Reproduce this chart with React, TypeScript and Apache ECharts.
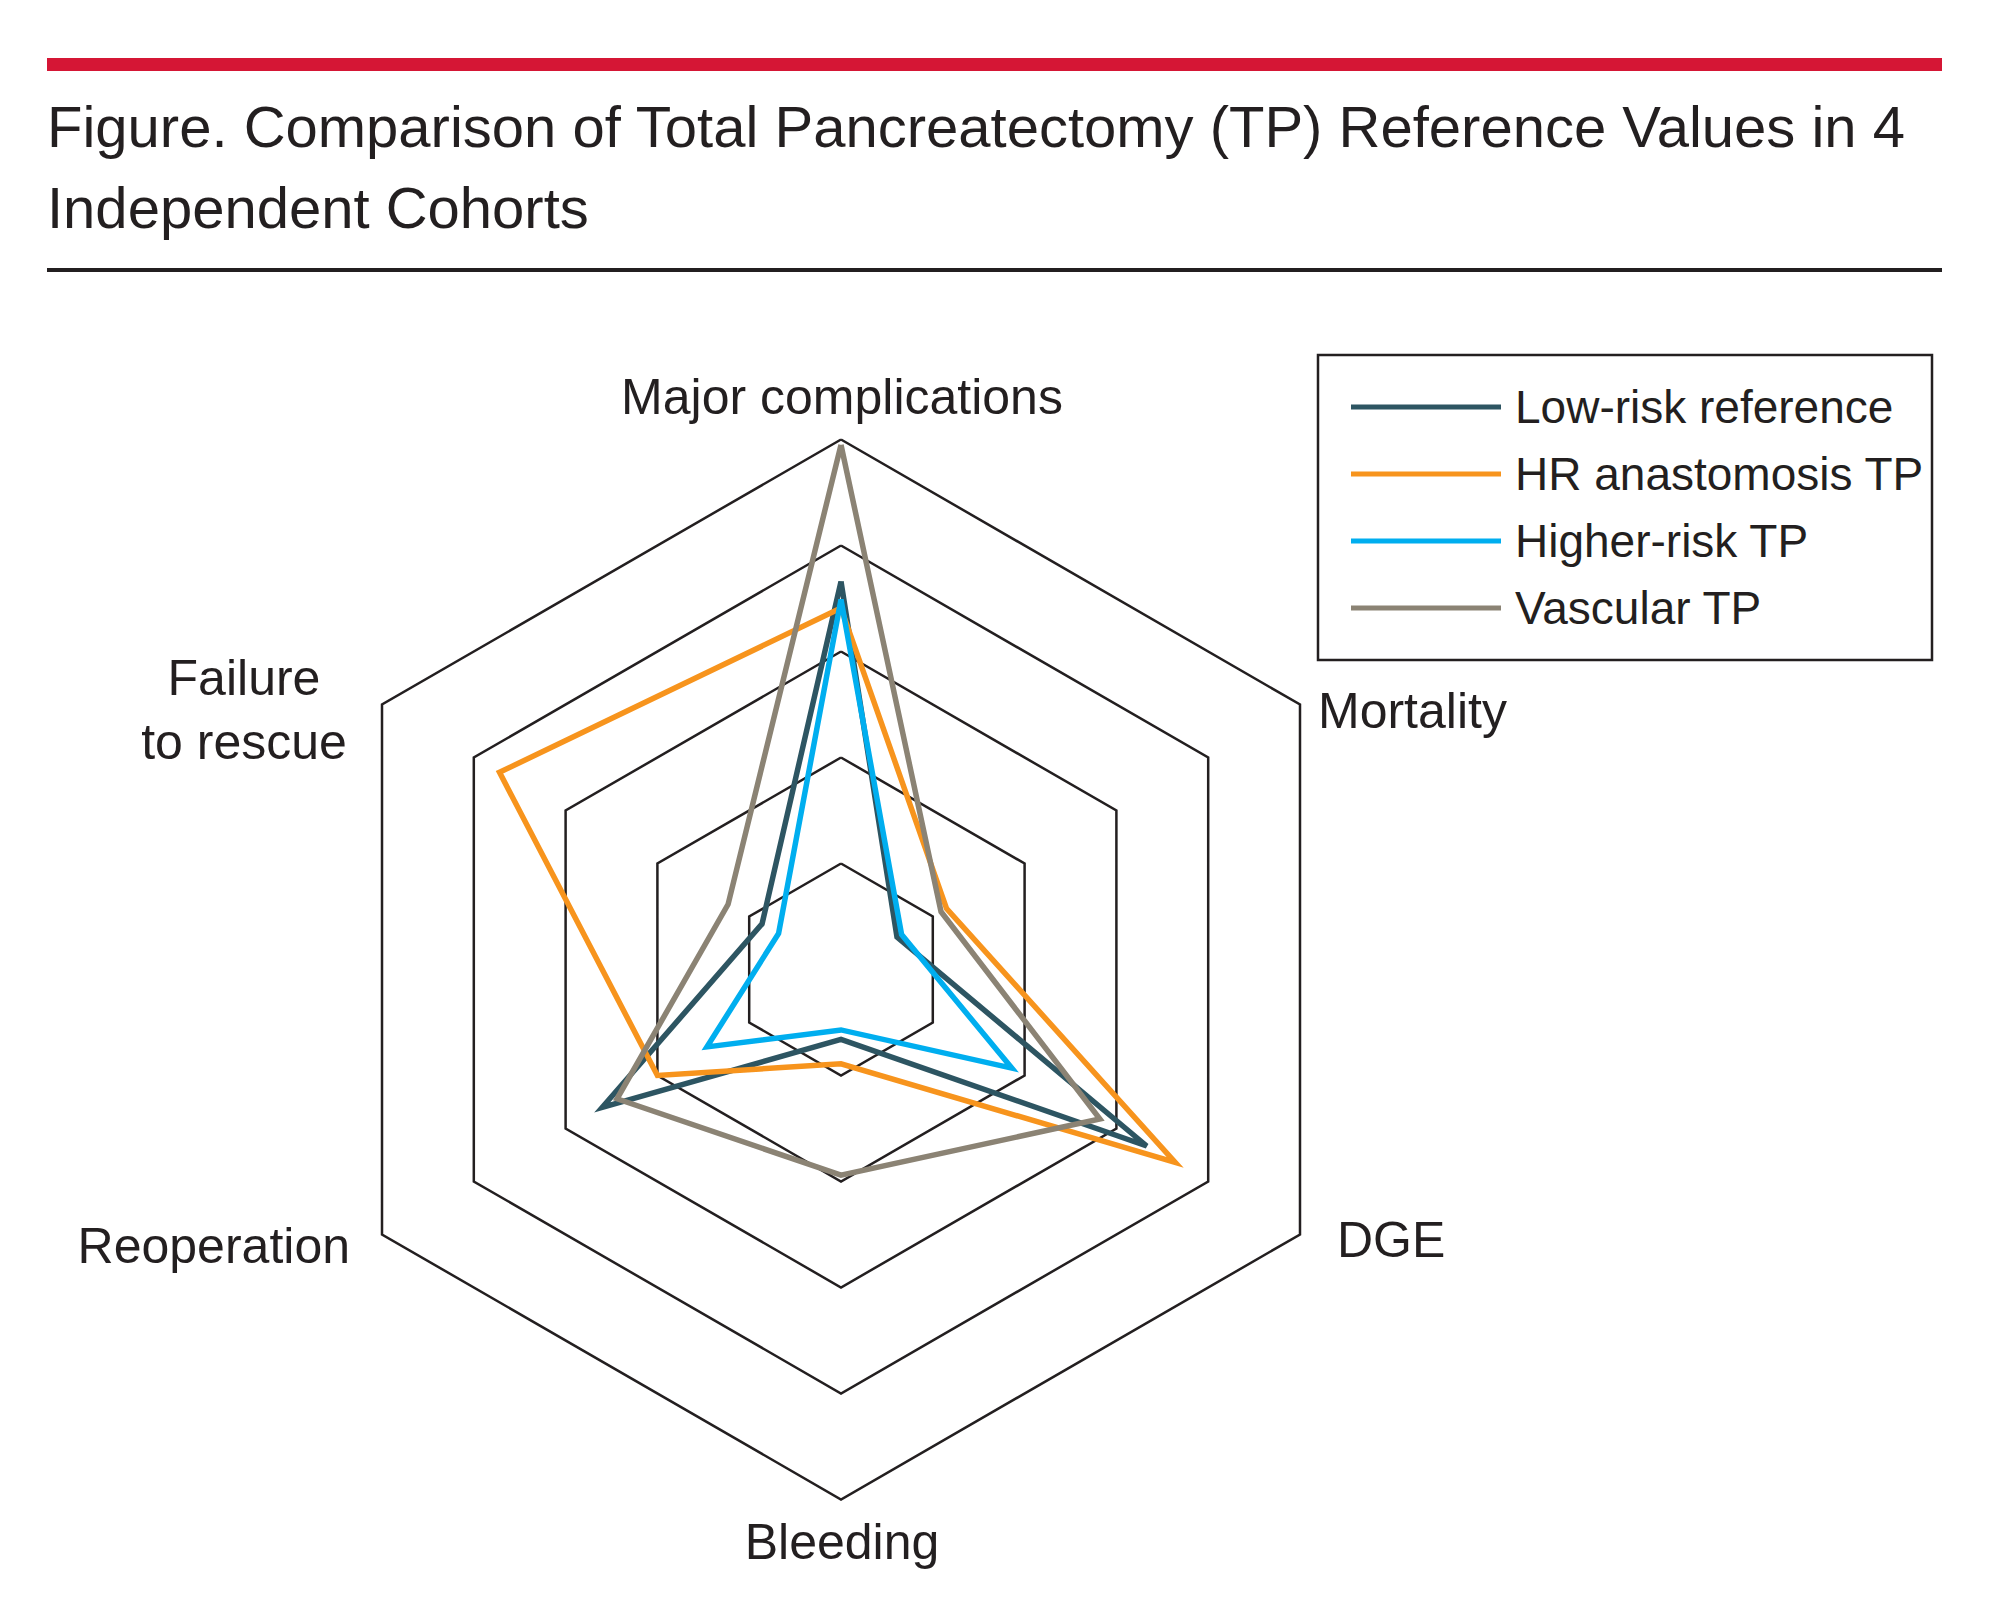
import React, { useEffect, useRef } from "react";
import * as echarts from "echarts";

const categories = [
  "Major complications",
  "Failure to rescue",
  "Reoperation",
  "Bleeding",
  "DGE",
  "Mortality",
];
const seriesNames = [
  "Low-risk reference",
  "HR anastomosis TP",
  "Higher-risk TP",
  "Vascular TP",
];
const lowRisk = [3.66, 0.86, 2.6, 0.66, 3.33, 0.61];
const hrAnastomosis = [3.41, 3.72, 2.0, 0.89, 3.64, 1.15];
const higherRisk = [3.49, 0.68, 1.46, 0.57, 1.86, 0.66];
const vascular = [4.95, 1.23, 2.44, 1.94, 2.82, 1.09];
const seriesColors = ["#2d5562", "#f7941d", "#00aeef", "#8b8374"];
const axisMax = 5;

const FONT = '"Liberation Sans", Arial, sans-serif';
const INK = "#231f20";

export default function App() {
  const ref = useRef<HTMLDivElement>(null);
  useEffect(() => {
    if (!ref.current) return;
    const chart = echarts.init(ref.current, undefined, { renderer: "svg" });
    const values = [lowRisk, hrAnastomosis, higherRisk, vascular];
    const cx = 841;
    const cy = 969.5;
    const R = 530;
    const labelStyle = (text: string, x: number, y: number, align: string) => ({
      type: "text",
      x,
      y,
      style: {
        text,
        fill: INK,
        font: `50px ${FONT}`,
        textAlign: align,
        textVerticalAlign: "middle",
      },
    });
    chart.setOption({
      animation: false,
      backgroundColor: "#ffffff",
      title: {
        text: "Figure. Comparison of Total Pancreatectomy (TP) Reference Values in 4\nIndependent Cohorts",
        left: 47,
        top: 86,
        padding: 0,
        textStyle: {
          fontFamily: FONT,
          fontSize: 58,
          fontWeight: "normal",
          color: INK,
          lineHeight: 81,
        },
      },
      legend: {
        orient: "vertical",
        left: 1351,
        top: 382,
        padding: 0,
        itemWidth: 150,
        itemHeight: 5,
        itemGap: 17,
        icon: "rect",
        selectedMode: false,
        data: seriesNames,
        textStyle: {
          fontFamily: FONT,
          fontSize: 46,
          color: INK,
          lineHeight: 50,
          padding: [0, 0, 0, 9],
        },
      },
      radar: {
        center: [cx, cy],
        radius: R,
        startAngle: 90,
        splitNumber: 5,
        shape: "polygon",
        indicator: categories.map((name) => ({ name, max: axisMax, min: 0 })),
        axisName: { show: false },
        axisLine: { show: false },
        axisTick: { show: false },
        axisLabel: { show: false },
        splitArea: { show: false },
        splitLine: { lineStyle: { color: INK, width: 2.5 } },
      },
      series: [
        {
          type: "radar",
          symbol: "none",
          data: seriesNames.map((name, i) => ({
            name,
            value: values[i],
            itemStyle: { color: seriesColors[i] },
            lineStyle: {
              color: seriesColors[i],
              width: 5.5,
              join: "miter",
              miterLimit: 4,
            },
          })),
        },
      ],
      graphic: [
        {
          type: "rect",
          shape: { x: 47, y: 58, width: 1895, height: 13 },
          style: { fill: "#d51635" },
        },
        {
          type: "rect",
          shape: { x: 47, y: 268, width: 1895, height: 4 },
          style: { fill: INK },
        },
        {
          type: "rect",
          shape: { x: 1318, y: 355, width: 614, height: 305 },
          style: { fill: "none", stroke: INK, lineWidth: 2.5 },
        },
        labelStyle(categories[0], 842, 397, "center"),
        labelStyle("Failure", 244, 678, "center"),
        labelStyle("to rescue", 244, 742, "center"),
        labelStyle(categories[2], 350, 1246, "right"),
        labelStyle(categories[3], 842, 1542, "center"),
        labelStyle(categories[4], 1337, 1240, "left"),
        labelStyle(categories[5], 1318, 711, "left"),
      ],
    });
    return () => chart.dispose();
  }, []);
  return (
    <div
      ref={ref}
      style={{ position: "fixed", left: 0, top: 0, width: 2010, height: 1619, background: "#fff" }}
    />
  );
}
